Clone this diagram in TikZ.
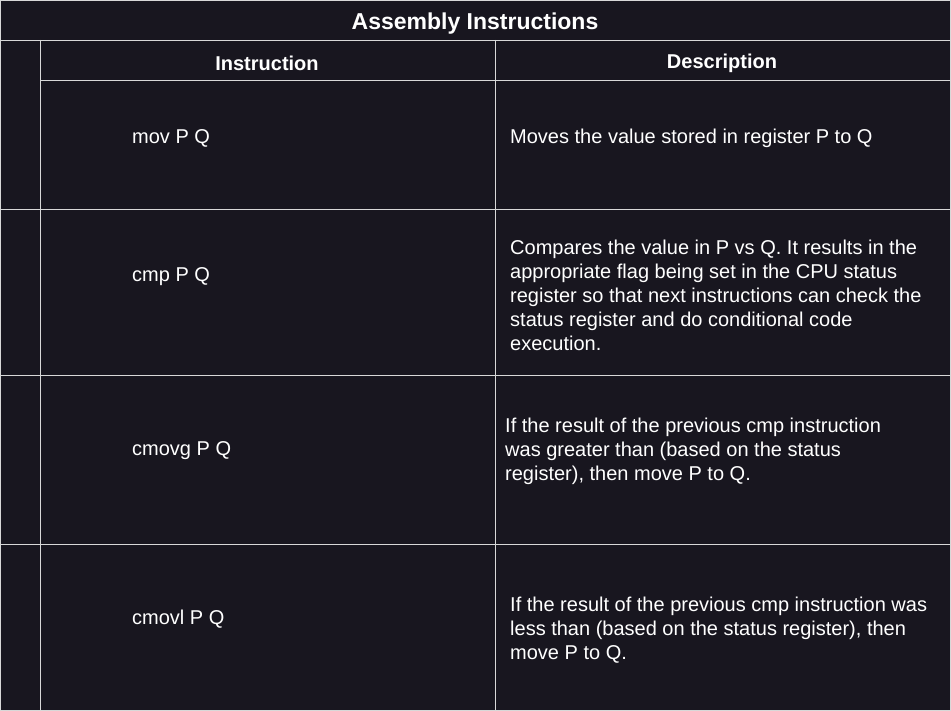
\documentclass[tikz,border=0pt]{standalone}
\usepackage{fontspec}
\setmainfont{Liberation Sans}
\definecolor{bg}{HTML}{18161F}
\definecolor{ln}{HTML}{D8D8D8}
\begin{document}
\begin{tikzpicture}[x=1pt,y=-1pt,
  grid/.style={draw=ln,line width=0.8pt},
  txt/.style={text=white,font=\fontsize{20}{24}\selectfont,inner sep=0pt},
  hdr/.style={text=white,font=\bfseries\fontsize{20}{24}\selectfont,inner sep=0pt},
  desc/.style={txt,anchor=west,align=left}]
\fill[bg] (0,0) rectangle (951,711);
\useasboundingbox (0,0) rectangle (951,711);
\draw[grid] (0.5,0.5) rectangle (950.5,710.5);
\draw[grid] (0,40) -- (951,40);
\draw[grid] (40,80) -- (951,80);
\draw[grid] (0,209) -- (951,209);
\draw[grid] (0,375) -- (951,375);
\draw[grid] (0,544) -- (951,544);
\draw[grid] (40,40) -- (40,711);
\draw[grid] (495,40) -- (495,711);
\node[hdr,font=\bfseries\fontsize{23}{24}\selectfont] (title) at (475,24) {Assembly Instructions};
\node[hdr] (h1) at (267,63) {Instruction};
\node[hdr] (h2) at (722,63) {Description};
\node[txt,anchor=west] (i1) at (132,138) {mov P Q};
\node[txt,anchor=west] (i2) at (132,277) {cmp P Q};
\node[txt,anchor=west] (i3) at (132,451) {cmovg P Q};
\node[txt,anchor=west] (i4) at (132,619) {cmovl P Q};
\node[desc] (d1) at (510,138) {Moves the value stored in register P to Q};
\node[desc] (d2) at (510,295) {Compares the value in P vs Q. It results in the\\appropriate flag being set in the CPU status\\register so that next instructions can check the\\status register and do conditional code\\execution.};
\node[desc] (d3) at (505,451) {If the result of the previous cmp instruction\\was greater than (based on the status\\register), then move P to Q.};
\node[desc] (d4) at (510,630) {If the result of the previous cmp instruction was\\less than (based on the status register), then\\move P to Q.};
\end{tikzpicture}
\end{document}
